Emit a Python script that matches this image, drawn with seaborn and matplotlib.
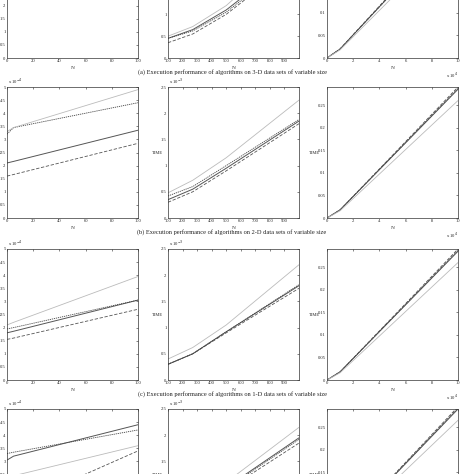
import numpy as np
import pandas as pd
import matplotlib
matplotlib.use("Agg")
import matplotlib.pyplot as plt
import seaborn as sns

sns.set_theme(style="white")
plt.rcParams['font.family'] = ['Liberation Serif', 'DejaVu Serif']

# x values for the three columns
x_small = [0, 5, 100]
x_mid = [100, 270, 500, 1000]
x_big = [0, 1, 10]

# rows: (a) 3-D, (b) 2-D, (c) 1-D, (d) next
small_vals = {
    "a": {"solid": [2.7, 2.8, 3.6], "dashed": [2.6, 2.7, 3.3], "dotted": [3.4, 3.5, 4.4], "light": [3.5, 3.6, 4.8]},
    "b": {"solid": [2.1, 2.16, 3.35], "dashed": [1.6, 1.66, 2.85], "dotted": [3.2, 3.45, 4.4], "light": [3.3, 3.45, 4.9]},
    "c": {"solid": [1.8, 1.86, 3.05], "dashed": [1.55, 1.6, 2.7], "dotted": [1.95, 2.0, 3.05], "light": [2.1, 2.2, 3.95]},
    "d": {"solid": [3.05, 3.2, 4.4], "dashed": [1.2, 1.3, 3.4], "dotted": [3.3, 3.35, 4.2], "light": [2.4, 2.45, 3.6]},
}
mid_vals = {
    "a": {"solid": [0.45, 0.65, 1.1, 2.4], "dashed": [0.35, 0.55, 1.0, 2.3], "dotted": [0.45, 0.62, 1.05, 2.35], "light": [0.5, 0.72, 1.2, 2.7]},
    "b": {"solid": [0.35, 0.55, 0.95, 1.85], "dashed": [0.3, 0.5, 0.9, 1.8], "dotted": [0.42, 0.6, 1.0, 1.88], "light": [0.48, 0.72, 1.15, 2.25]},
    "c": {"solid": [0.3, 0.5, 0.92, 1.8], "dashed": [0.3, 0.5, 0.9, 1.75], "dotted": [0.3, 0.5, 0.92, 1.82], "light": [0.4, 0.62, 1.05, 2.2]},
    "d": {"solid": [0.4, 0.6, 1.0, 1.95], "dashed": [0.35, 0.55, 0.95, 1.85], "dotted": [0.38, 0.58, 0.98, 1.92], "light": [0.45, 0.68, 1.1, 2.15]},
}
big_vals = {
    "a": {"solid": [0, 0.02, 0.30], "dashed": [0, 0.02, 0.305], "dotted": [0, 0.02, 0.30], "light": [0, 0.018, 0.28]},
    "b": {"solid": [0, 0.018, 0.285], "dashed": [0, 0.018, 0.29], "dotted": [0, 0.018, 0.287], "light": [0, 0.016, 0.26]},
    "c": {"solid": [0, 0.018, 0.285], "dashed": [0, 0.018, 0.29], "dotted": [0, 0.018, 0.287], "light": [0, 0.016, 0.26]},
    "d": {"solid": [0, 0.018, 0.29], "dashed": [0, 0.018, 0.295], "dotted": [0, 0.018, 0.292], "light": [0, 0.016, 0.265]},
}
captions = {
    "a": "(a) Execution performance of algorithms on 3-D data sets of variable size",
    "b": "(b) Execution performance of algorithms on 2-D data sets of variable size",
    "c": "(c) Execution performance of algorithms on 1-D data sets of variable size",
}

styles = {
    "solid": dict(color="#555555", ls="-", lw=0.7),
    "dashed": dict(color="#555555", ls=(0, (4, 2)), lw=0.6),
    "dotted": dict(color="#444444", ls=(0, (1.5, 1)), lw=0.6),
    "light": dict(color="#bbbbbb", ls="-", lw=0.6),
}

W = H = 474
fig = plt.figure(figsize=(4.74, 4.74), dpi=100)
col_left = [7, 168, 327]
ax_w = 131
ax_h = 131
row_bottom = {"a": 58, "b": 218, "c": 380, "d": 540}
fs = 3.3


def px_axes(left, bottom_from_top):
    return fig.add_axes([left / W, (H - bottom_from_top) / H, ax_w / W, ax_h / H])


def draw(ax, xs, vals):
    for name, ys in vals.items():
        df = pd.DataFrame({"x": xs, "y": ys})
        sns.lineplot(data=df, x="x", y="y", ax=ax, **styles[name])
    ax.set_xlabel("")
    ax.set_ylabel("")
    ax.tick_params(direction="in", length=1.5, width=0.4, labelsize=fs, pad=1,
                   top=True, right=True)
    for s in ax.spines.values():
        s.set_linewidth(0.5)
        s.set_color("#333333")


for r, yb in row_bottom.items():
    ax1 = px_axes(col_left[0], yb)
    draw(ax1, x_small, small_vals[r])
    ax1.set_xlim(0, 100)
    ax1.set_ylim(0, 5)
    ax1.set_xticks(range(0, 101, 20))
    ax1.set_yticks(np.arange(0, 5.01, 0.5))
    ax1.set_yticklabels(["0", "0.5", "1", "1.5", "2", "2.5", "3", "3.5", "4", "4.5", "5"])
    ax1.text(0.01, 1.005, "x 10$^{-4}$", transform=ax1.transAxes, fontsize=fs, va="bottom")
    ax1.text(0.5, -0.06, "N", transform=ax1.transAxes, fontsize=fs + 0.5, ha="center", va="top")
    ax1.text(-0.04, 0.5, "TIME", transform=ax1.transAxes, fontsize=fs, ha="right", va="center")

    ax2 = px_axes(col_left[1], yb)
    draw(ax2, x_mid, mid_vals[r])
    ax2.set_xlim(100, 1000)
    ax2.set_ylim(0, 3 if r == "a" else 2.5)
    ax2.set_xticks(range(100, 1000, 100))
    ax2.set_yticks(np.arange(0, 2.51, 0.5))
    ax2.set_yticklabels(["0", "0.5", "1", "1.5", "2", "2.5"])
    ax2.text(0.01, 1.005, "x 10$^{-3}$", transform=ax2.transAxes, fontsize=fs, va="bottom")
    ax2.text(0.5, -0.06, "N", transform=ax2.transAxes, fontsize=fs + 0.5, ha="center", va="top")
    ax2.text(-0.04, 0.5, "TIME", transform=ax2.transAxes, fontsize=fs, ha="right", va="center")

    ax3 = px_axes(col_left[2], yb)
    draw(ax3, x_big, big_vals[r])
    ax3.set_xlim(0, 10)
    ax3.set_ylim(0, 0.29)
    ax3.set_xticks(range(0, 11, 2))
    ax3.set_yticks([0, 0.05, 0.1, 0.15, 0.2, 0.25])
    ax3.set_yticklabels(["0", "0.05", "0.1", "0.15", "0.2", "0.25"])
    ax3.text(1.0, -0.1, "x 10$^{4}$", transform=ax3.transAxes, fontsize=fs, ha="right", va="top")
    ax3.text(0.5, -0.06, "N", transform=ax3.transAxes, fontsize=fs + 0.5, ha="center", va="top")
    ax3.text(-0.05, 0.5, "TIME", transform=ax3.transAxes, fontsize=fs, ha="right", va="center")

    if r in captions:
        fig.text(232 / W, (H - (yb + 14)) / H, captions[r], fontsize=4.6,
                 ha="center", va="center", color="#222222")

fig.savefig("out.png", dpi=100)
